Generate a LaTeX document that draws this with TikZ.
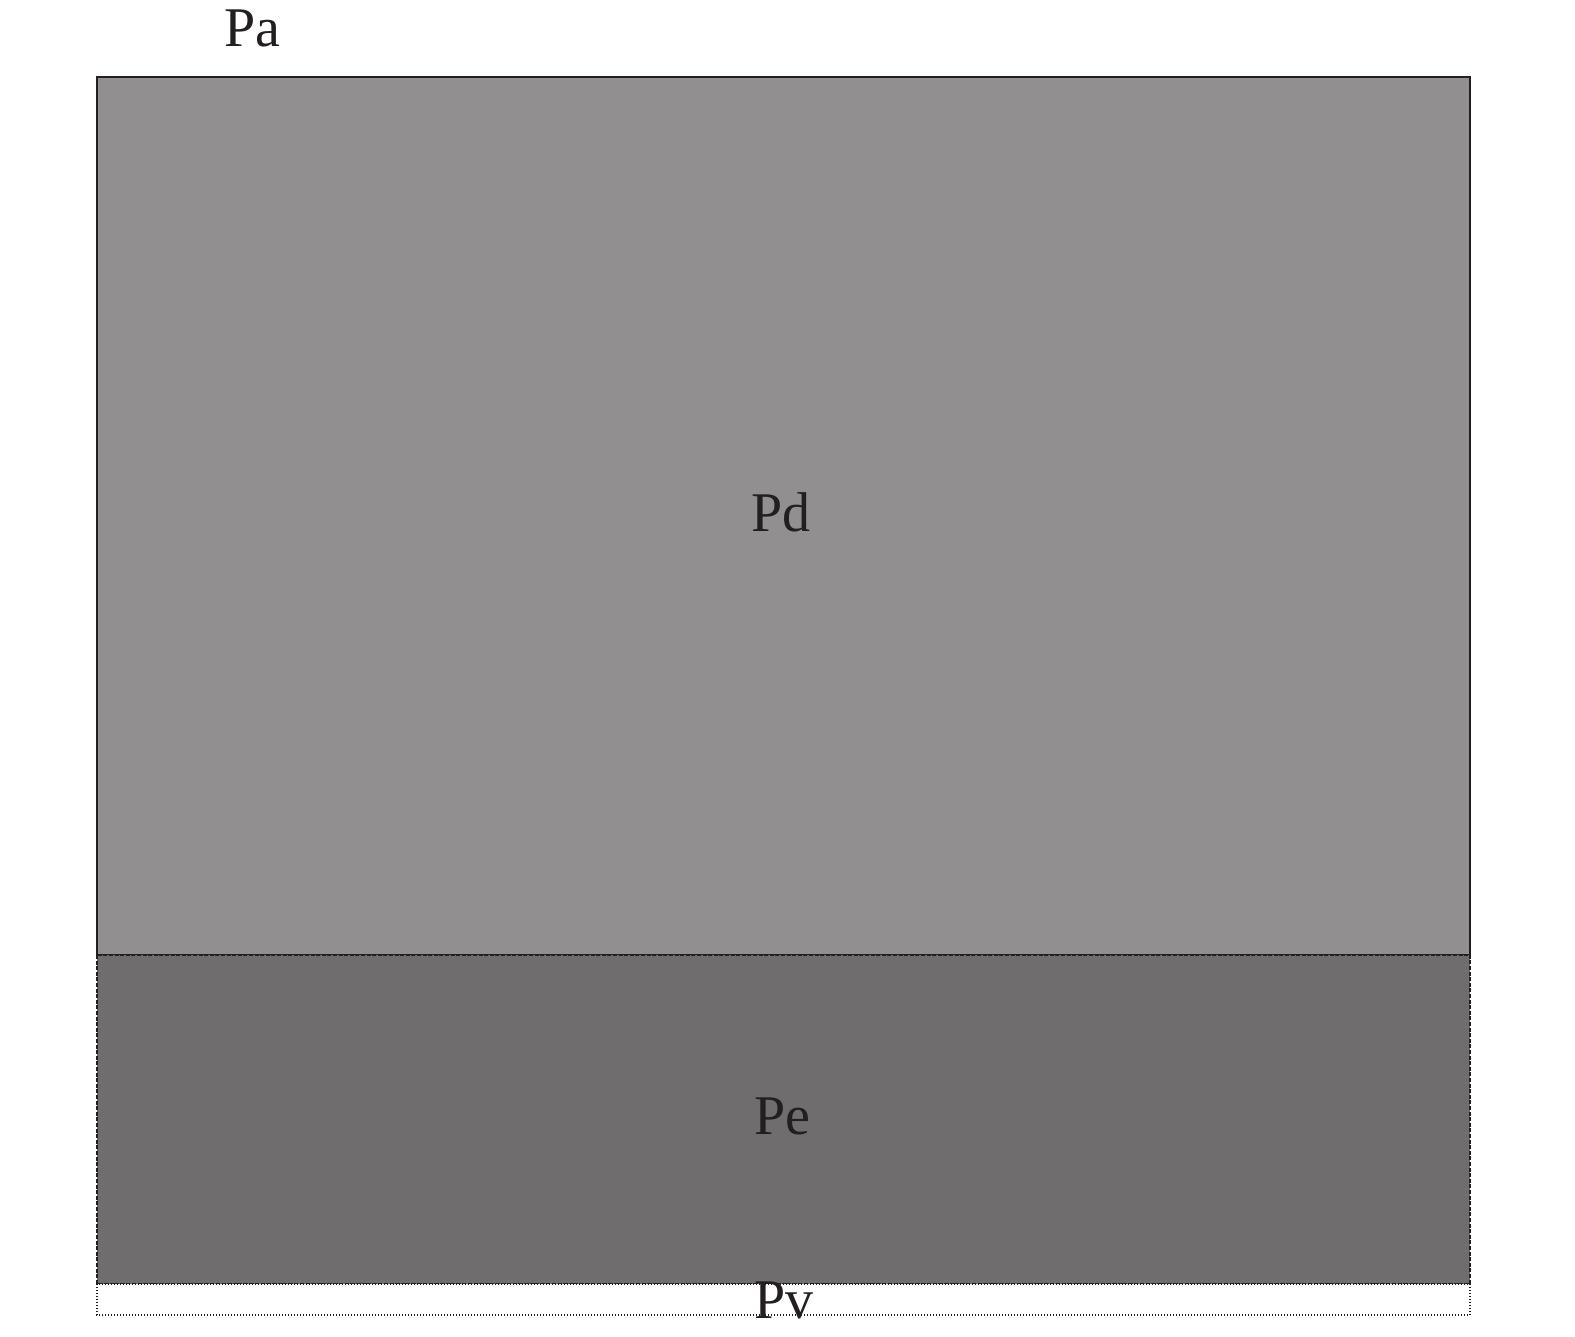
\documentclass[tikz,border=0pt]{standalone}
\usepackage{fontspec}
\setmainfont{Liberation Serif}
\usepackage{tikz}
\definecolor{darkgray}{HTML}{918F90}
\definecolor{deepgray}{HTML}{6F6D6E}
\definecolor{inkblack}{HTML}{231F20}
\begin{document}
\begin{tikzpicture}[x=0.5pt,y=-0.5pt]
\tikzstyle{every node}+=[inner sep=0pt, text=inkblack, font=\fontsize{28}{32}\selectfont]
\tikzstyle{band}=[draw=inkblack, line width=1.1pt]
\useasboundingbox (0,0) rectangle (1575,1337);
\draw [band, fill=darkgray] (97,77) rectangle (1470,955);
\draw [band, fill=deepgray, dash pattern=on 2pt off 0.8pt, line width=0.9pt] (97,955) rectangle (1470,1284);
\draw [band, fill=white, dash pattern=on 0.5pt off 1pt, line width=0.9pt] (97,1284) rectangle (1470,1315);
\node (pa) at (252,28) {Pa};
\node (pd) at (781,512) {Pd};
\node (pe) at (782,1116) {Pe};
\node (pv) at (784,1300) {Pv};
\end{tikzpicture}
\end{document}
